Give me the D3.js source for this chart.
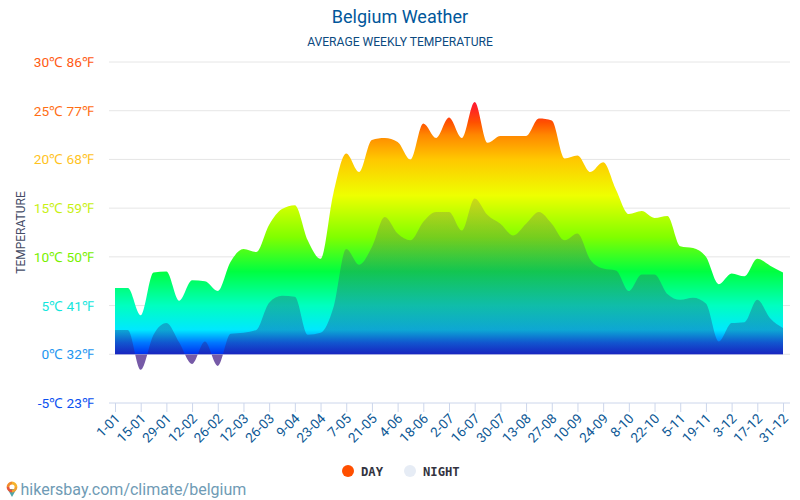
<!DOCTYPE html>
<html>
<head>
<meta charset="utf-8">
<script src="https://cdn.jsdelivr.net/npm/d3@7/dist/d3.min.js"></script>
<style>
    html, body { margin: 0; padding: 0; background: #fff; }
    svg { display: block; }
    text { font-family: Roboto, sans-serif; }
</style>
</head>
<body>
<div id="chart"></div>
<script>
const weekIndex = d3.range(53);

const dayTemps = [6.8, 6.8, 4.0, 8.4, 8.5, 5.5, 7.6, 7.5, 6.5, 9.5, 10.8, 10.5, 13.3, 14.9, 15.3, 11.7, 9.8, 16.5,
    20.6, 18.7, 22.0, 22.2, 21.8, 20.0, 23.7, 22.2, 24.3, 22.2, 25.9, 21.7, 22.4, 22.4, 22.4, 24.2, 24.0, 20.1,
    20.4, 18.7, 19.7, 16.9, 14.4, 14.7, 14.0, 14.2, 11.1, 10.9, 10.0, 7.2, 8.3, 8.0, 9.8, 9.1, 8.4];

const nightTemps = [2.5, 2.5, -1.6, 2.0, 3.2, 1.2, -1.0, 1.3, -1.2, 2.1, 2.2, 2.5, 5.3, 6.0, 5.9, 2.0, 2.2, 4.8,
    10.8, 9.2, 11.0, 14.1, 12.4, 11.7, 13.6, 14.6, 14.6, 12.7, 16.0, 14.3, 13.4, 12.2, 13.4, 14.6, 13.4, 11.7,
    12.4, 9.7, 8.8, 8.6, 6.5, 8.2, 8.2, 6.2, 5.6, 5.8, 5.2, 1.3, 3.2, 3.3, 5.6, 3.7, 2.7];

const xLabels = ["1-01", "15-01", "29-01", "12-02", "26-02", "12-03", "26-03", "9-04", "23-04", "7-05", "21-05",
    "4-06", "18-06", "2-07", "16-07", "30-07", "13-08", "27-08", "10-09", "24-09", "8-10", "22-10", "5-11",
    "19-11", "3-12", "17-12", "31-12"];

const yTicks = [-5, 0, 5, 10, 15, 20, 25, 30];
const yLabels = ["-5℃ 23℉", "0℃ 32℉", "5℃ 41℉", "10℃ 50℉", "15℃ 59℉", "20℃ 68℉", "25℃ 77℉", "30℃ 86℉"];
const yColors = ["#0a50f0", "#1e96f0", "#12e6dc", "#78f000", "#c8f014", "#ffc31e", "#ff6e14", "#ff5a14"];

// temperature -> colour of the day band
const dayStops = [[26.5, "#ff1040"], [25, "#ff2a20"], [23.8, "#ff5000"], [22.5, "#ff8800"], [20, "#ffc800"],
    [16.3, "#eeff00"], [12, "#80ff00"], [8.5, "#00ff40"], [5, "#00ffc0"], [2.5, "#00e8ff"], [1.2, "#0078ff"],
    [0, "#0030f0"]];
const nightStops = [[16, "rgba(110,60,120,0.2)"], [8, "rgba(60,60,120,0.3)"], [2, "rgba(40,30,120,0.33)"],
    [0, "rgba(60,20,120,0.4)"], [-0.1, "rgba(60,20,130,0.7)"], [-2, "rgba(60,20,130,0.7)"]];

const width = 800, height = 500;

const svg = d3.select("#chart").append("svg")
    .attr("width", width)
    .attr("height", height);

const x = d3.scaleLinear().domain([0, 52]).range([115, 783]);
const y = d3.scaleLinear().domain([-5, 30]).range([403, 62]);

const defs = svg.append("defs");
function addGradient(id, stops) {
    const top = stops[0][0], bottom = stops[stops.length - 1][0];
    const g = defs.append("linearGradient")
        .attr("id", id)
        .attr("gradientUnits", "userSpaceOnUse")
        .attr("x1", 0).attr("x2", 0)
        .attr("y1", y(top)).attr("y2", y(bottom));
    stops.forEach(s => {
        g.append("stop")
            .attr("offset", (top - s[0]) / (top - bottom))
            .attr("stop-color", s[1]);
    });
}
addGradient("dayFill", dayStops);
addGradient("nightFill", nightStops);

// grid
svg.append("g")
    .selectAll("line")
    .data(yTicks)
    .join("line")
    .attr("x1", 109).attr("x2", 790)
    .attr("y1", d => y(d)).attr("y2", d => y(d))
    .attr("stroke", d => d === -5 ? "#ccd6eb" : "#e6e6e6");

const area = d3.area()
    .curve(d3.curveMonotoneX)
    .x(i => x(i))
    .y0(y(0));

svg.append("path")
    .datum(weekIndex)
    .attr("fill", "url(#dayFill)")
    .attr("d", area.y1(i => y(dayTemps[i])));

svg.append("path")
    .datum(weekIndex)
    .attr("fill", "url(#nightFill)")
    .attr("d", area.y1(i => y(nightTemps[i])));

// y labels
svg.append("g")
    .selectAll("text")
    .data(yTicks)
    .join("text")
    .attr("x", 94)
    .attr("y", d => y(d) + 5)
    .attr("text-anchor", "end")
    .attr("font-size", 13.7)
    .attr("fill", (d, i) => yColors[i])
    .text((d, i) => yLabels[i]);

// x axis
const tickScale = d3.scalePoint().domain(xLabels).range([115, 783]);
const xAxis = svg.append("g")
    .attr("transform", `translate(0,${y(-5)})`)
    .call(d3.axisBottom(tickScale).tickSize(9).tickSizeOuter(0));
xAxis.select(".domain").remove();
xAxis.selectAll("line").attr("stroke", "#ccd6eb");
xAxis.selectAll("text")
    .attr("x", 0)
    .attr("y", 0)
    .attr("dy", "0.35em")
    .attr("font-family", "Roboto, sans-serif")
    .attr("font-size", 13.5)
    .attr("fill", "#0f5a96")
    .attr("text-anchor", "end")
    .attr("transform", "translate(2,13) rotate(-45)");

// titles
svg.append("text")
    .attr("x", 400).attr("y", 23)
    .attr("text-anchor", "middle")
    .attr("font-size", 18)
    .attr("fill", "#01579b")
    .text("Belgium Weather");

svg.append("text")
    .attr("x", 400).attr("y", 46)
    .attr("text-anchor", "middle")
    .attr("font-size", 12.1)
    .attr("fill", "#0b4a80")
    .text("AVERAGE WEEKLY TEMPERATURE");

svg.append("text")
    .attr("transform", "translate(25,232.5) rotate(-90)")
    .attr("text-anchor", "middle")
    .attr("font-size", 12)
    .attr("fill", "#444c66")
    .text("TEMPERATURE");

// legend
const legendItems = [["DAY", "#ff4f00", 348, 361], ["NIGHT", "#e6ecf5", 410, 423]];
legendItems.forEach(d => {
    svg.append("circle").attr("cx", d[2]).attr("cy", 471).attr("r", 6).attr("fill", d[1]);
    svg.append("text")
        .attr("x", d[3]).attr("y", 476)
        .attr("font-size", 12.2)
        .attr("font-weight", "bold")
        .style("font-family", "'DejaVu Sans Mono', monospace")
        .attr("fill", "#333340")
        .text(d[0]);
});

// footer pin
const pin = svg.append("g").attr("transform", "translate(12,487)");
pin.append("path")
    .attr("d", "M-4.5,2 L0,10 L4.5,2 Z")
    .attr("fill", "#4fa5a8");
const ringColors = ["#f6b32c", "#f0a030", "#e8553a", "#f08a2c"];
const ring = d3.arc().innerRadius(2.6).outerRadius(5.4);
ringColors.forEach((c, i) => {
    pin.append("path")
        .attr("d", ring({ startAngle: i * Math.PI / 2, endAngle: (i + 1) * Math.PI / 2 }))
        .attr("fill", c);
});

svg.append("text")
    .attr("x", 20.5).attr("y", 495)
    .attr("font-size", 16)
    .attr("fill", "#6f9bb5")
    .text("hikersbay.com/climate/belgium");
</script>
</body>
</html>
